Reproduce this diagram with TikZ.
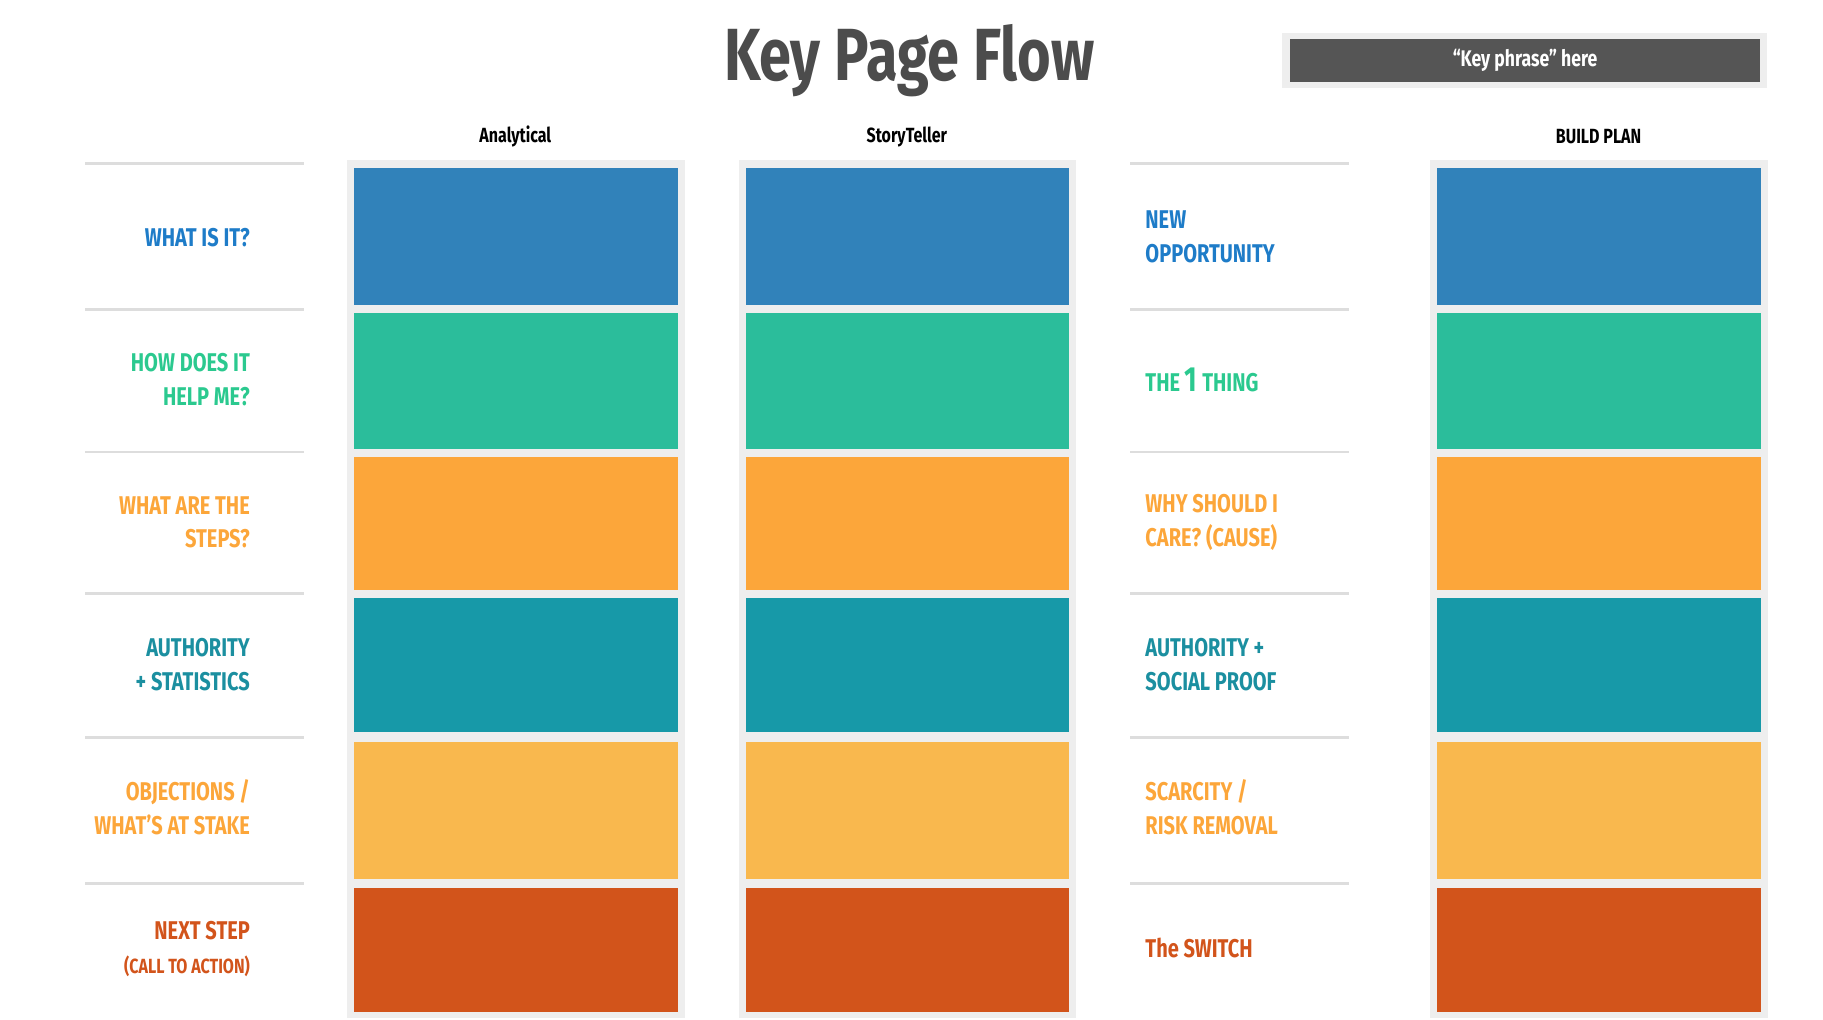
\documentclass[tikz,border=0pt]{standalone}
\usepackage{fontspec}
\setmainfont{Fira Sans}[FakeStretch=0.78]
\usetikzlibrary{positioning}
\definecolor{cblue}{HTML}{3182BA}
\definecolor{cgreen}{HTML}{2BBD9B}
\definecolor{corange}{HTML}{FCA63A}
\definecolor{cteal}{HTML}{1799A8}
\definecolor{cyellow}{HTML}{F9B84E}
\definecolor{cred}{HTML}{D2541B}
\definecolor{tblue}{HTML}{1E7CC8}
\definecolor{tgreen}{HTML}{2BC98F}
\definecolor{tteal}{HTML}{1B8FA0}
\definecolor{panel}{HTML}{EEEEEE}
\definecolor{rule}{HTML}{DDDDDD}
\definecolor{dark}{HTML}{555555}
\begin{document}
\begin{tikzpicture}[x=0.02cm,y=-0.02cm,
    panelbox/.style={fill=panel},
    blk/.style={draw=none},
    sep/.style={draw=rule,line width=1.2pt},
    lbl/.style={font=\bfseries\fontsize{12.5}{16.5}\selectfont,align=right,anchor=east},
    rlbl/.style={font=\bfseries\fontsize{12.5}{16.5}\selectfont,align=left,anchor=west},
    head/.style={font=\bfseries\fontsize{10}{12}\selectfont}]
  \useasboundingbox (0,0) rectangle (1560,872);
  % title and key phrase
  \node[font=\bfseries\fontsize{36}{40}\selectfont,text=dark!90!black] (title) at (778,52) {Key Page Flow};
  \fill[panelbox] (1097,28) rectangle (1512,75);
  \fill[dark] (1104,33) rectangle (1506,70);
  \node[font=\bfseries\fontsize{11}{13}\selectfont,text=white] (phrase) at (1305,52) {“Key phrase” here};
  % column heads
  \node[head] (hA) at (441,117) {Analytical};
  \node[head] (hS) at (776,117) {StoryTeller};
  \node[head] (hB) at (1368,117) {BUILD PLAN};
  % columns
  \foreach \x in {297,632,1224}{
    \fill[panelbox] (\x,137) rectangle ++(289,734);
    \foreach \ya/\yb/\c in {144/261/cblue,268/384/cgreen,391/505/corange,512/626/cteal,635/752/cyellow,760/866/cred}
      \fill[\c] (\x+6,\ya) rectangle (\x+283,\yb);
  }
  % separators
  \foreach \y in {140,265,387,508,631,756}{
    \draw[sep] (73,\y) -- (260,\y);
    \draw[sep] (967,\y) -- (1154,\y);
  }
  % left labels
  \node[lbl,text=tblue] (l1) at (220,203) {WHAT IS IT?};
  \node[lbl,text=tgreen] (l2) at (220,325) {HOW DOES IT\\HELP ME?};
  \node[lbl,text=corange] (l3) at (220,447) {WHAT ARE THE\\STEPS?};
  \node[lbl,text=tteal] (l4) at (220,569) {AUTHORITY\\+ STATISTICS};
  \node[lbl,text=corange] (l5) at (220,691) {OBJECTIONS /\\WHAT’S AT STAKE};
  \node[lbl,text=cred] (l6) at (220,812) {NEXT STEP\\{\fontsize{10}{12}\selectfont (CALL TO ACTION)}};
  % right labels
  \node[rlbl,text=tblue] (r1) at (974,203) {NEW\\OPPORTUNITY};
  \node[rlbl,text=tgreen] (r2) at (974,325) {THE {\fontsize{17}{17}\selectfont 1} THING};
  \node[rlbl,text=corange] (r3) at (974,447) {WHY SHOULD I\\CARE? (CAUSE)};
  \node[rlbl,text=tteal] (r4) at (974,569) {AUTHORITY +\\SOCIAL PROOF};
  \node[rlbl,text=corange] (r5) at (974,691) {SCARCITY /\\RISK REMOVAL};
  \node[rlbl,text=cred] (r6) at (974,811) {The SWITCH};
\end{tikzpicture}
\end{document}
